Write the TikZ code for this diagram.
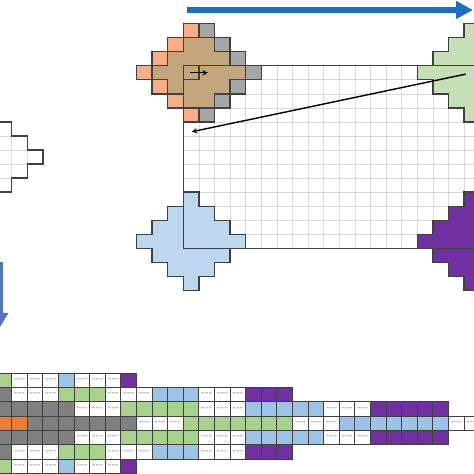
\documentclass[tikz,border=0pt]{standalone}
\usepackage{tikz}
\usetikzlibrary{arrows.meta}
\usetikzlibrary{positioning}

\definecolor{edgec}{RGB}{64,64,64}
\definecolor{gridc}{RGB}{217,217,217}
\definecolor{tanc}{RGB}{196,166,124}
\definecolor{peach}{RGB}{248,175,135}
\definecolor{ash}{RGB}{166,166,166}
\definecolor{mint}{RGB}{197,224,180}
\definecolor{ice}{RGB}{189,215,238}
\definecolor{plum}{RGB}{112,48,160}
\definecolor{leaf}{RGB}{169,209,142}
\definecolor{sky}{RGB}{157,195,230}
\definecolor{slate}{RGB}{128,128,128}
\definecolor{ember}{RGB}{237,125,49}
\definecolor{sweepc}{RGB}{30,110,190}
\definecolor{downc}{RGB}{84,116,190}
\definecolor{dashc}{RGB}{110,110,110}

\tikzset{
  gridline/.style={draw=gridc, line width=0.6pt},
  rimline/.style={draw=edgec, line width=1.4pt},
  cell/.style={draw=edgec, line width=0.9pt, inner sep=0pt,
    minimum width=15.6pt, minimum height=14.29pt},
  dashcell/.style={fill=white, text=dashc,
    font=\ttfamily\bfseries\fontsize{7}{7}\selectfont},
  sweep/.style={line width=5.3pt, -{Triangle[length=17pt,width=17pt]}},
  stencil/.pic={
    \path[pic actions] (0,-3) -| ++(1,1) -| ++(1,1) -| ++(1,1) -| ++(1,1)
      -| ++(-1,1) -| ++(-1,1) -| ++(-1,1)
      -| ++(-1,-1) -| ++(-1,-1) -| ++(-1,-1) -| ++(-1,-1)
      -| ++(1,-1) -| ++(1,-1) -| ++(1,-1) -- cycle;
  }
}

\begin{document}
\begin{tikzpicture}[>=stealth, x=1pt, y=-1pt]
  \useasboundingbox (0,0) rectangle (474,474);
  \clip (0,0) rectangle (474,474);

  % sweep arrows
  \coordinate (sweepL) at (187,10);
  \coordinate (sweepR) at (473,10);
  \coordinate (downT) at (0,262);
  \coordinate (downB) at (0,327);
  \draw[sweep, draw=sweepc] (sweepL) -- (sweepR);
  \draw[line width=5.3pt, draw=downc,
    -{Triangle[length=14pt,width=16pt]}] (downT) -- (downB);

  % domain grid
  \begin{scope}[shift={(183.3,65.7)}, x=15.6pt, y=-14.05pt]
    \foreach \i in {1,...,18}
      \draw[gridline] (\i,0) -- (\i,13);
    \foreach \j in {1,...,12}
      \draw[gridline] (0,\j) -- (19,\j);

    % left stencil (partly outside)
    \foreach \dy/\k in {-3/0,-2/1,-1/2,0/3,1/2,2/1,3/0}
      \foreach \dx in {-\k,...,\k}
        \draw[gridline] (-13+\dx,6+\dy) rectangle ++(1,1);
    \pic[draw=edgec, line width=1.4pt] at (-13,6) {stencil};

    % corner stencils
    \pic[fill=ice, draw=edgec, line width=1.4pt] at (0,12) {stencil};
    \pic[fill=mint, draw=edgec, line width=1.4pt] at (18,0) {stencil};
    \pic[fill=plum, draw=edgec, line width=1.4pt] at (18,12) {stencil};

    % moving stencil
    \foreach \x/\y in {0/-3,-1/-2,-2/-1,-3/0,-2/1,-1/2,0/3}
      \draw[rimline, fill=peach] (\x,\y) rectangle ++(1,1);
    \foreach \x/\y in {1/-3,2/-2,3/-1,4/0,3/1,2/2,1/3}
      \draw[rimline, fill=ash] (\x,\y) rectangle ++(1,1);
    \draw[rimline, fill=tanc] (0,-2) -- (2,-2) -- (2,-1) -- (3,-1)
      -- (3,0) -- (4,0) -- (4,1) -- (3,1) -- (3,2) -- (2,2) -- (2,3)
      -- (0,3) -- (0,2) -- (-1,2) -- (-1,1) -- (-2,1) -- (-2,0)
      -- (-1,0) -- (-1,-1) -- (0,-1) -- cycle;

    % border
    \draw[rimline] (0,0) rectangle (19,13);
    \draw[rimline] (0,0) rectangle (1,1);

    % arrows
    \coordinate (stepA) at (0.43,0.5);
    \coordinate (stepB) at (1.58,0.5);
    \coordinate (scanfrom) at (18.1,0.6);
    \coordinate (scanto) at (0.55,4.7);
    \draw[->, line width=1.5pt] (stepA) -- (stepB);
    \draw[->, line width=1.4pt] (scanfrom) -- (scanto);
  \end{scope}

  % memory strip
  \begin{scope}[shift={(-3.9,373.3)}, x=15.6pt, y=-14.29pt]
    \foreach \r/\a/\b/\s in {
        0/0/0/leaf, 0/4/4/sky, 0/8/8/plum,
        1/0/0/slate, 1/4/6/leaf, 1/10/12/sky, 1/16/18/plum,
        2/0/4/slate, 2/8/12/leaf, 2/16/20/sky, 2/24/28/plum,
        3/0/1/ember, 3/2/8/slate, 3/12/18/leaf, 3/22/28/sky,
        4/0/4/slate, 4/8/12/leaf, 4/16/20/sky, 4/24/28/plum,
        5/0/0/slate, 5/4/6/leaf, 5/10/12/sky, 5/16/18/plum,
        6/0/0/leaf, 6/4/4/sky, 6/8/8/plum}
      \foreach \c in {\a,...,\b}
        \node[cell, fill=\s] (s\r-\c) at (\c+0.5,\r+0.5) {};
    \foreach \r/\a/\b in {
        0/1/3, 0/5/7,
        1/1/3, 1/7/9, 1/13/15,
        2/5/7, 2/13/15, 2/21/23,
        3/9/11, 3/19/21, 3/29/30,
        4/5/7, 4/13/15, 4/21/23,
        5/1/3, 5/7/9, 5/13/15,
        6/1/3, 6/5/7}
      \foreach \c in {\a,...,\b}
        \node[cell, dashcell] (s\r-\c) at (\c+0.5,\r+0.5) {-{}-{}-};
  \end{scope}
\end{tikzpicture}
\end{document}
